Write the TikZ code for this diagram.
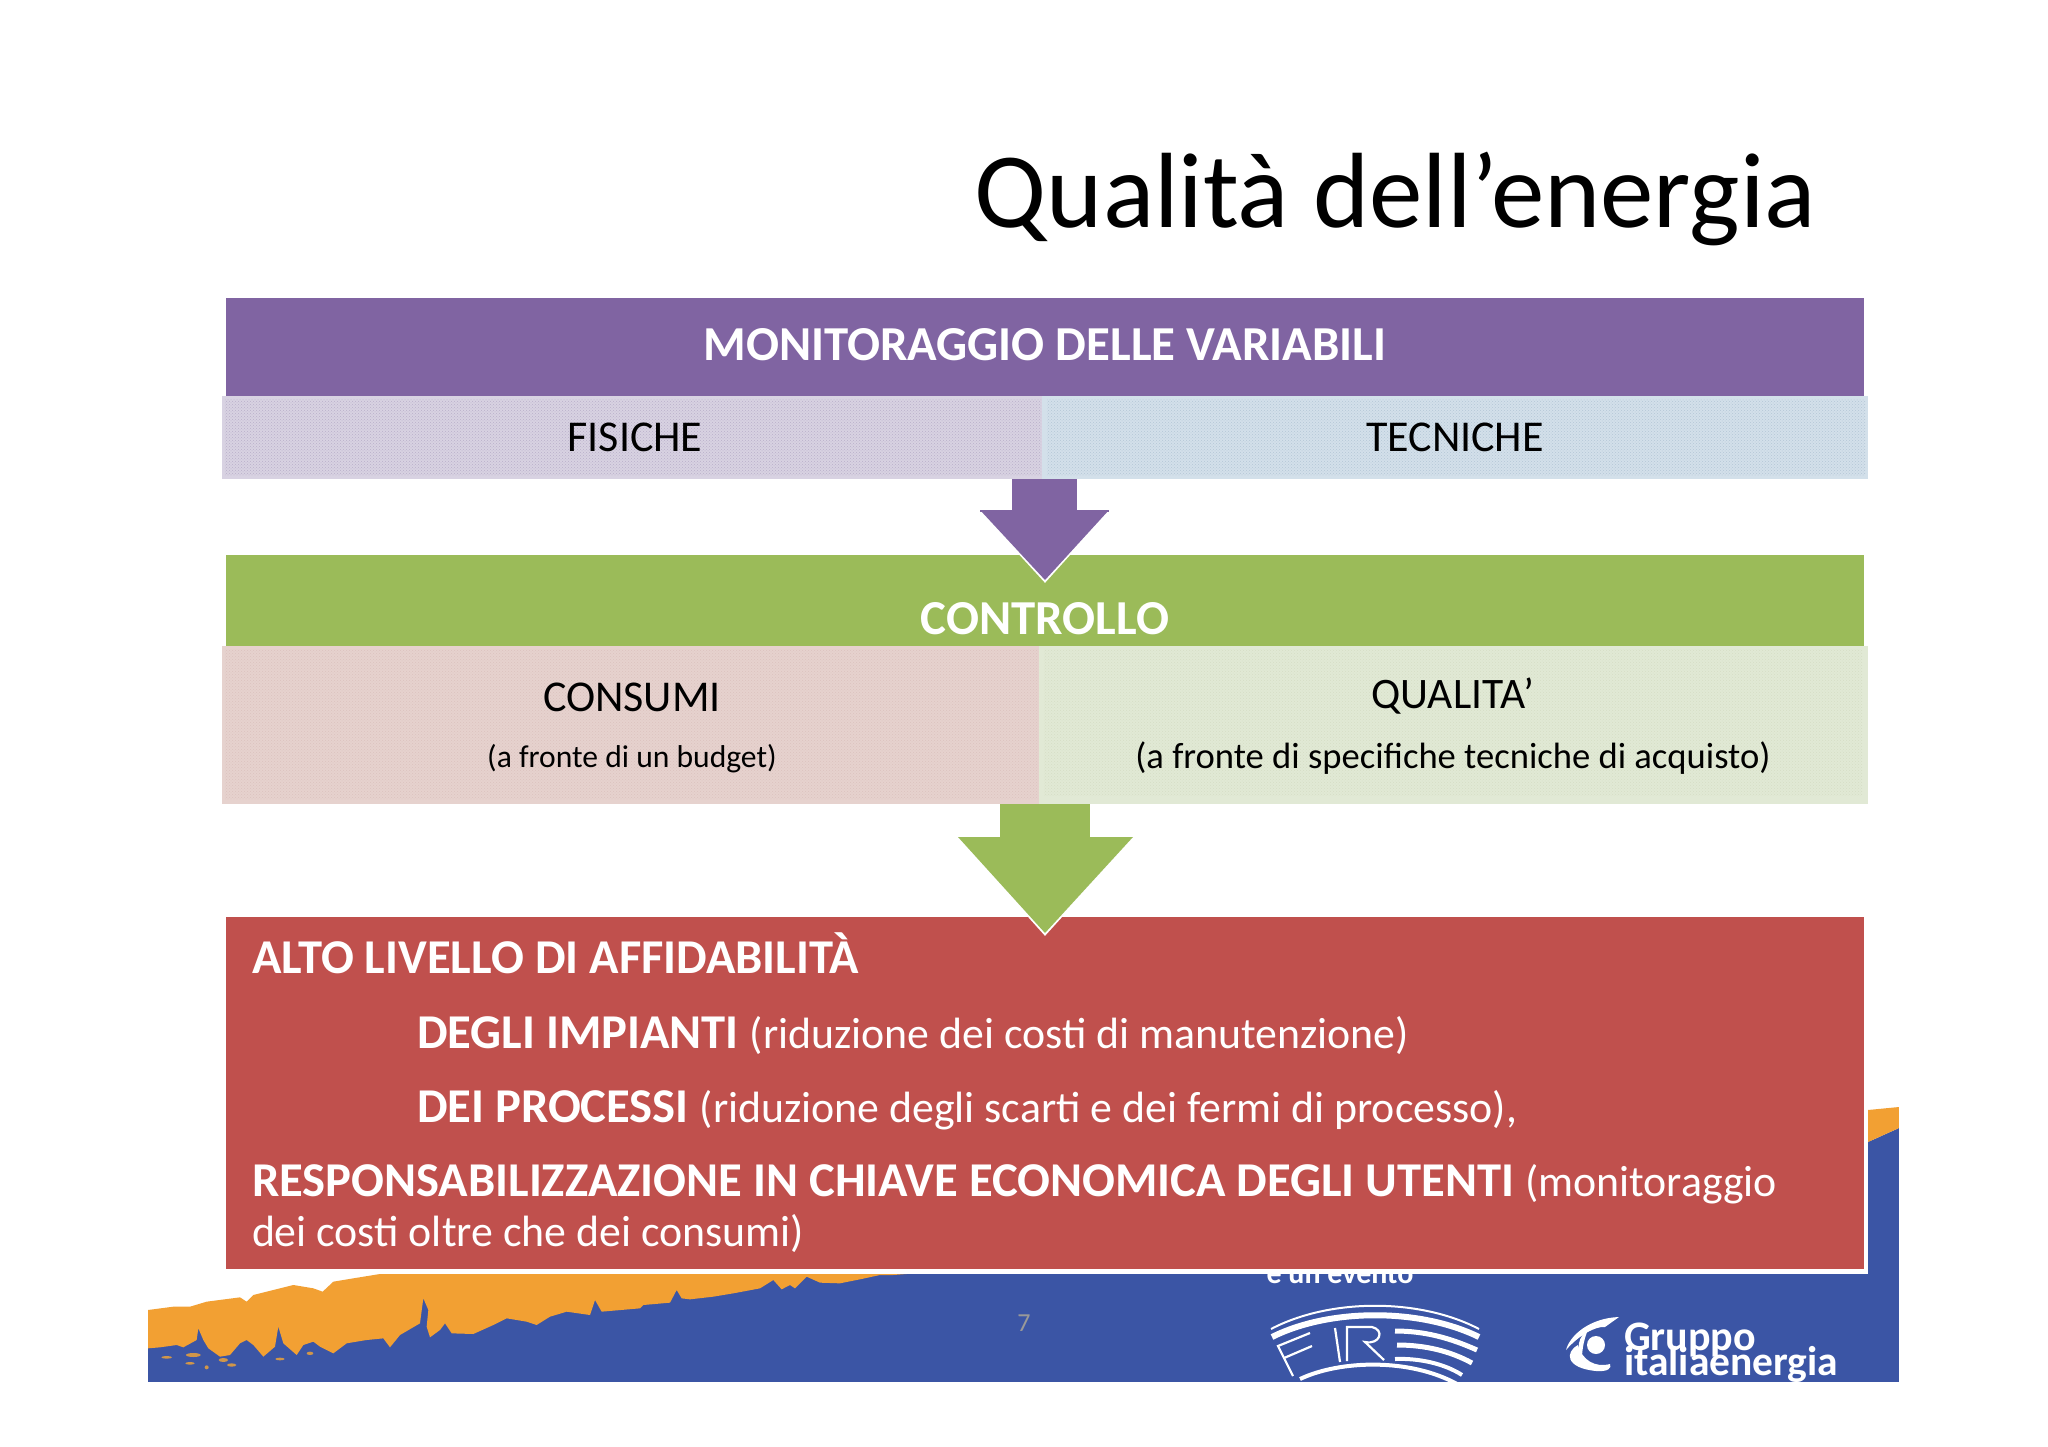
\documentclass[tikz,border=0pt]{standalone}
\usepackage{fontspec}
\usetikzlibrary{patterns}
\setmainfont{Carlito}
\definecolor{cpurple}{HTML}{8064A2}
\definecolor{cgreen}{HTML}{9BBB59}
\definecolor{cred}{HTML}{C0504D}
\definecolor{clilac}{HTML}{D8D2E2}
\definecolor{clilacd}{HTML}{B9AFC9}
\definecolor{cblue}{HTML}{D3E0EA}
\definecolor{cblued}{HTML}{B4C6D6}
\definecolor{cpink}{HTML}{E6D2CE}
\definecolor{cpinkd}{HTML}{DCC2BD}
\definecolor{cpale}{HTML}{E1E9D5}
\definecolor{cpaled}{HTML}{D5DEC4}
\definecolor{bannerblue}{HTML}{3B55A5}
\definecolor{bannerorange}{HTML}{F2A033}
\newcommand{\fsz}[1]{\fontsize{#1}{#1}\selectfont}
\tikzset{
  box/.style={inner sep=0pt,outer sep=0pt,anchor=north west},
  txt/.style={inner sep=0pt,outer sep=0pt,anchor=base},
  ltxt/.style={inner sep=0pt,outer sep=0pt,anchor=base west,text=white},
  tipline/.style={draw=white,line width=2.5pt,line join=miter},
  logo/.style={draw=white,line cap=butt},
  blob/.style={fill=bannerorange!70!gray},
}
\begin{document}
\begin{tikzpicture}[x=1pt,y=-1pt]
\useasboundingbox (0,0) rectangle (2048,1447);
\fill[white] (0,0) rectangle (2048,1447);
% banner
\fill[bannerblue] (148,1382) -- (148,1330) -- (380,1280) -- (906,1274) -- (1868,1274) -- (1868,1142) -- (1899,1128) -- (1899,1382) -- cycle;
\begin{scope}[shift={(140,1260)},x=0.33333pt,y=-0.33333pt]
\fill[bannerorange] (24,150) -- (100,140) -- (150,140) -- (200,125) -- (300,112) -- (320,125) -- (340,105) -- (400,90) -- (460,75) -- (520,85) -- (548,95) -- (580,65) -- (640,55) -- (720,42) -- (1500,42) -- (1500,145)
 -- (1385,155) -- (1365,120) -- (1350,165) -- (1280,155) -- (1230,170) -- (1190,195) -- (1160,185) -- (1100,175) -- (1060,195) -- (1000,222) -- (935,220) -- (915,190) -- (900,210) -- (870,232) -- (860,200) -- (865,150) -- (850,115) -- (840,190) -- (780,225) -- (750,262) -- (730,235) -- (680,240) -- (620,250) -- (580,280) -- (540,260) -- (520,245) -- (490,255) -- (470,285) -- (430,250) -- (415,200) -- (405,260) -- (370,290) -- (340,255) -- (320,240) -- (300,250) -- (270,285) -- (240,290) -- (205,265) -- (190,240) -- (175,205) -- (170,240) -- (130,262) -- (110,255) -- (60,262) -- (24,265) -- cycle;
\fill[blob] (80,292) ellipse (16 and 4);
\fill[blob] (160,285) ellipse (22 and 6);
\fill[blob] (200,322) circle (6);
\fill[blob] (150,310) ellipse (14 and 4);
\fill[blob] (250,300) ellipse (14 and 6);
\fill[blob] (275,315) ellipse (14 and 5);
\fill[blob] (420,297) ellipse (14 and 4);
\fill[blob] (510,280) ellipse (10 and 5);
\end{scope}
\begin{scope}[shift={(600,1260)},x=0.33333pt,y=-0.33333pt]
\fill[bannerorange] (120,42) -- (920,42) -- (880,45) -- (840,45) -- (780,58) -- (720,70) -- (660,68) -- (620,50) -- (585,85) -- (570,75) -- (545,88) -- (520,60) -- (480,85) -- (400,100) -- (340,110) -- (270,118) -- (245,115) -- (230,90) -- (210,128) -- (130,135) -- (120,145) -- cycle;
\end{scope}
\fill[bannerorange] (1868,1110) -- (1899,1107) -- (1899,1128) -- (1868,1142) -- cycle;
\node[txt,text=white,font=\bfseries\fsz{30}] (evento) at (1340,1283) {e un evento};
\node[txt,text=gray!80,font=\fsz{26}] (pagenum) at (1024,1331) {7};
% FIRE logo
\begin{scope}
\clip (1260,1300) rectangle (1490,1382);
\draw[logo,line width=2pt] (1271,1329) .. controls (1330,1298) and (1420,1298) .. (1479,1329);
\draw[logo,line width=6pt] (1272,1337) .. controls (1330,1308) and (1420,1308) .. (1479,1337);
\draw[logo,line width=5pt] (1395,1331) .. controls (1425,1331) and (1450,1338) .. (1477,1350);
\draw[logo,line width=5pt] (1397,1345) .. controls (1425,1345) and (1450,1351) .. (1472,1363);
\draw[logo,line width=4pt] (1395,1359) .. controls (1420,1358) and (1445,1364) .. (1462,1375);
\draw[logo,line width=4pt] (1300,1379) .. controls (1340,1360) and (1410,1358) .. (1457,1384);
\draw[logo,line width=2.2pt] (1293,1376) -- (1278,1346) -- (1310,1333);
\draw[logo,line width=2.2pt] (1284,1358) -- (1312,1346);
\draw[logo,line width=2.2pt] (1335,1328) -- (1340,1362);
\draw[logo,line width=2.2pt] (1347,1361) -- (1347,1327) -- (1372,1327) .. controls (1385,1330) and (1380,1345) .. (1365,1342) -- (1384,1360);
\end{scope}
% Gruppo logo
\fill[white] (1619,1317) .. controls (1590,1318) and (1570,1335) .. (1566,1350) .. controls (1578,1336) and (1595,1326) .. (1605,1327) -- cycle;
\fill[white] (1578,1345) .. controls (1565,1352) and (1565,1368) .. (1596,1371) .. controls (1608,1372) and (1612,1368) .. (1610,1364) .. controls (1595,1368) and (1582,1360) .. cycle;
\fill[white] (1596,1345) circle (9);
\fill[white] (1588,1330) .. controls (1578,1336) and (1576,1350) .. (1582,1358) .. controls (1582,1348) and (1585,1336) .. cycle;
\node[ltxt,font=\bfseries\fsz{42}] (gruppo) at (1624,1350) {Gruppo};
\node[ltxt,font=\bfseries\fsz{41.5}] (italia) at (1624,1375) {italiaenergia};
\fill[white] (0,1382) rectangle (2048,1447);
\fill[white] (1899,1100) rectangle (2048,1447);
% white band round the red box
\fill[white] (222,912) rectangle (1868,1274);
% boxes
\node[box,fill=cpurple,minimum width=1638pt,minimum height=98pt] (mon) at (226,298) {};
\node[box,fill=clilac,minimum width=820pt,minimum height=83pt] (fis) at (222,396) {};
\node[box,fill=cblue,minimum width=826pt,minimum height=83pt] (tec) at (1042,396) {};
\fill[pattern=crosshatch dots,pattern color=clilacd] (225,399) rectangle (1041,475);
\fill[pattern=crosshatch dots,pattern color=cblued] (1047,399) rectangle (1865,475);
\node[box,fill=cgreen,minimum width=1638pt,minimum height=91pt] (con) at (226,555) {};
\node[box,fill=cpink,minimum width=817pt,minimum height=158pt] (cons) at (222,646) {};
\node[box,fill=cpale,minimum width=829pt,minimum height=158pt] (qual) at (1039,646) {};
\fill[pattern=crosshatch dots,pattern color=cpinkd] (225,649) rectangle (1038,799);
\fill[pattern=crosshatch dots,pattern color=cpaled] (1044,649) rectangle (1862,795);
\node[box,fill=cred,minimum width=1638pt,minimum height=352pt] (res) at (226,917) {};
% arrows
\filldraw[tipline,fill=cpurple] (980,510) -- (1045,581) -- (1109,510) -- cycle;
\fill[cpurple] (1012,479) rectangle (1077,511);
\fill[cpurple] (980,510) rectangle (1109,512);
\fill[cpurple] (980,510) -- (1109,510) -- (1045,580) -- cycle;
\filldraw[tipline,fill=cgreen] (958,837) -- (1045,934) -- (1133,837) -- cycle;
\fill[cgreen] (1000,804) rectangle (1090,838);
\fill[cgreen] (958,837) -- (1133,837) -- (1045,933) -- cycle;
% title
\node[inner sep=0pt,anchor=base east,font=\fsz{107}] (title) at (1816,228) {Qualità dell’energia};
% labels
\node[txt,text=white,font=\bfseries\fsz{48.8}] (t1) at (1045,360) {MONITORAGGIO DELLE VARIABILI};
\node[txt,font=\fsz{44}] (t2) at (635,451) {FISICHE};
\node[txt,font=\fsz{44}] (t3) at (1455,451) {TECNICHE};
\node[txt,text=white,font=\bfseries\fsz{48.8}] (t4) at (1045,634) {CONTROLLO};
\node[txt,font=\fsz{44}] (t5) at (632,711) {CONSUMI};
\node[txt,font=\fsz{31.6}] (t6) at (632,767) {(a fronte di un budget)};
\node[txt,font=\fsz{43.5}] (t7) at (1453,708) {QUALITA’};
\node[txt,font=\fsz{36.6}] (t8) at (1453,768) {(a fronte di specifiche tecniche di acquisto)};
\node[ltxt,font=\fsz{48.6}] (r1) at (252,973) {\bfseries ALTO LIVELLO DI AFFIDABILITÀ};
\node[ltxt,font=\fsz{48.6}] (r2) at (417,1048) {\bfseries DEGLI IMPIANTI \fsz{43.8}\mdseries(riduzione dei costi di manutenzione)};
\node[ltxt,font=\fsz{48.6}] (r3) at (417,1122) {\bfseries DEI PROCESSI \fsz{43.8}\mdseries(riduzione degli scarti e dei fermi di processo),};
\node[ltxt,font=\fsz{48.6}] (r4) at (252,1196) {\bfseries RESPONSABILIZZAZIONE IN CHIAVE ECONOMICA DEGLI UTENTI \fsz{43.8}\mdseries(monitoraggio};
\node[ltxt,font=\fsz{43.8}] (r5) at (252,1246) {dei costi oltre che dei consumi)};
\end{tikzpicture}
\end{document}
